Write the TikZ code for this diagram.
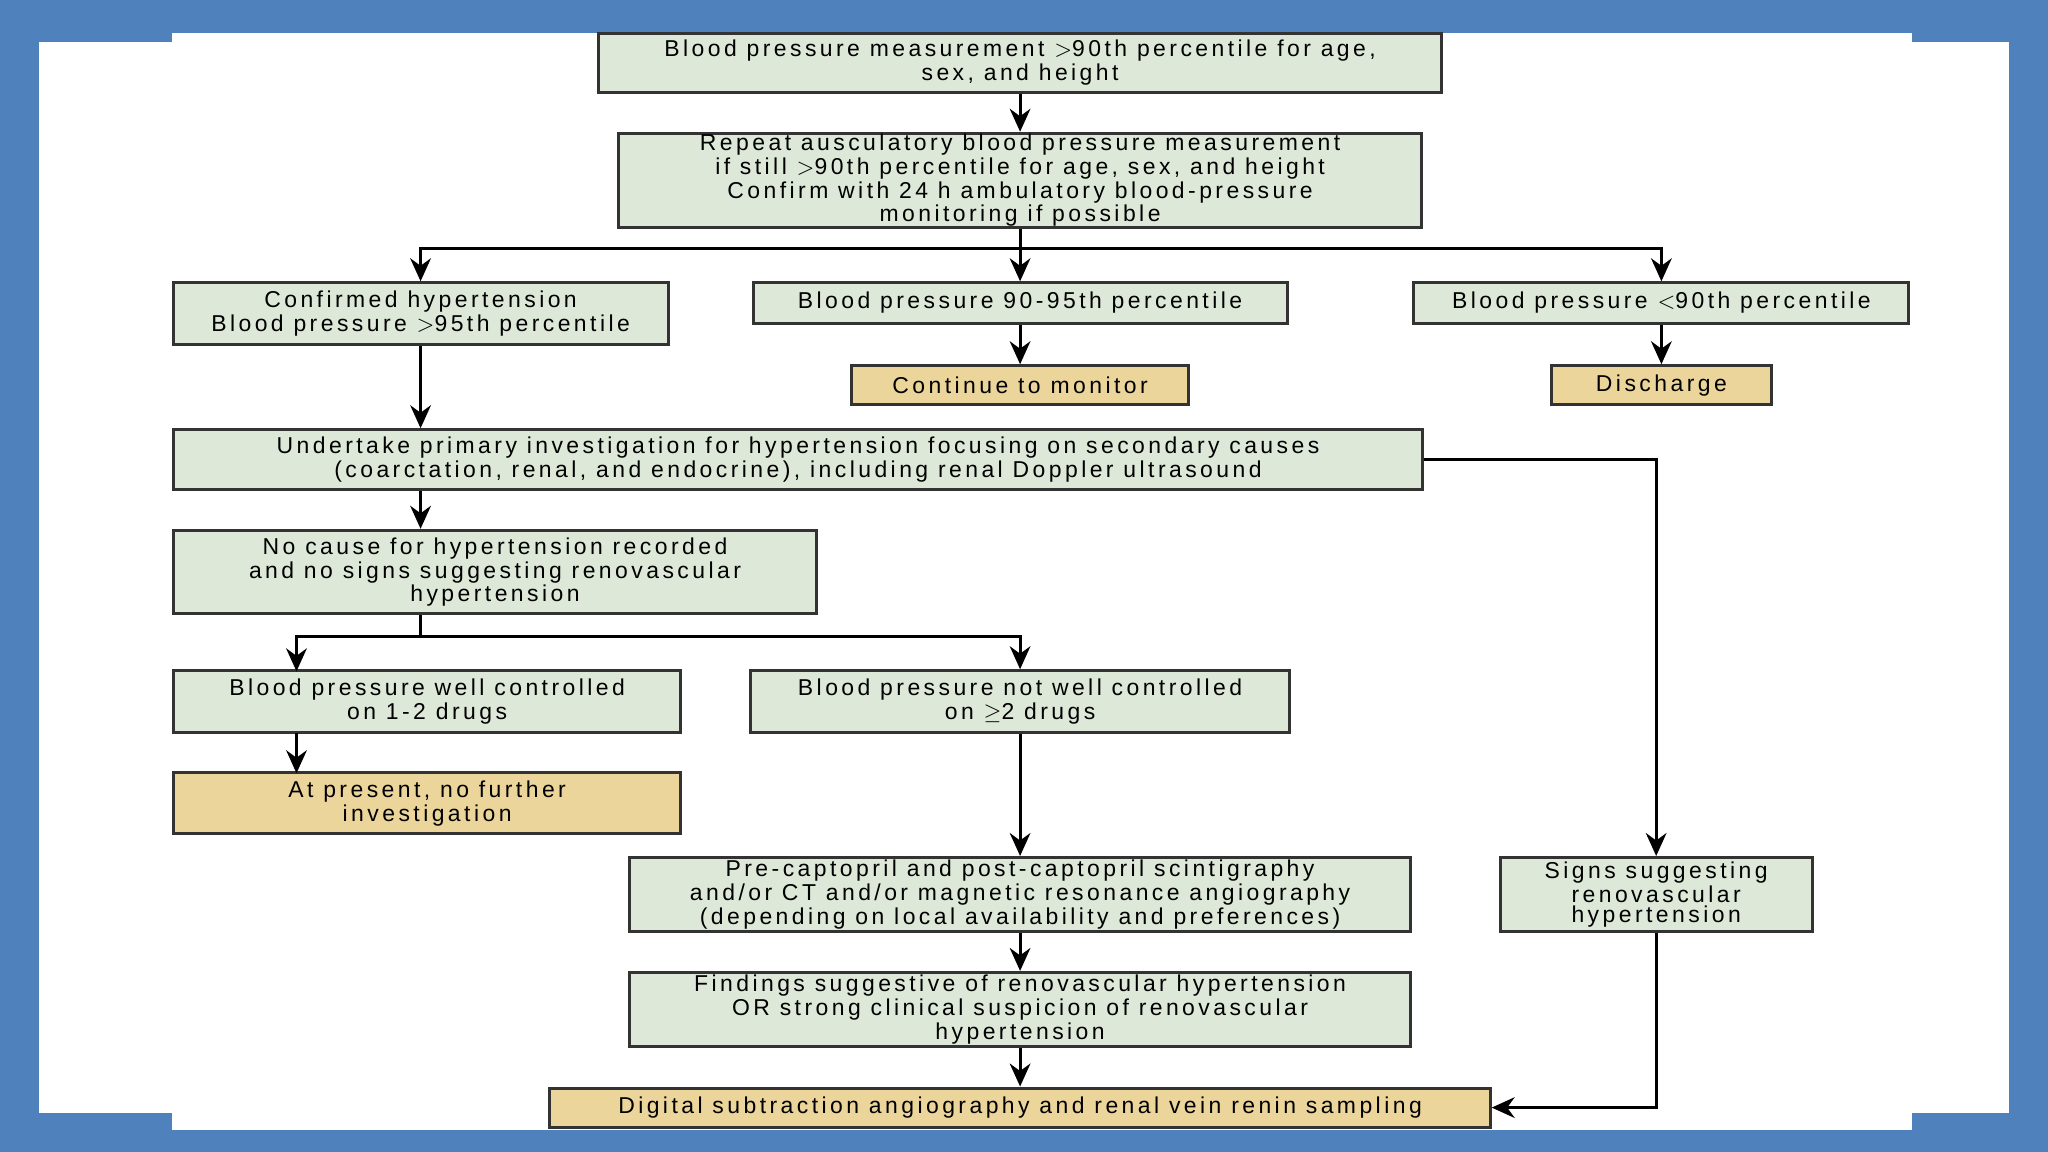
\documentclass[tikz,border=0pt]{standalone}
\usepackage{fontspec}
\setmainfont{Liberation Sans}[LetterSpace=15]
\usetikzlibrary{arrows.meta}
\definecolor{bgblue}{HTML}{4F81BD}
\definecolor{gbox}{HTML}{DDE8D8}
\definecolor{ybox}{HTML}{EBD59A}
\begin{document}
\begin{tikzpicture}[x=0.02cm,y=-0.02cm,
 box/.style={draw=black!80,line width=1.3pt,fill=gbox,align=center,inner sep=0pt,
   font=\fontsize{10}{8.8}\selectfont},
 ybx/.style={box,fill=ybox},
 ar/.style={line width=1.3pt,-{Stealth[length=10pt,width=9pt]}},
 ln/.style={line width=1.3pt}]
\fill[bgblue] (0,0) rectangle (1568,882);
\fill[white] (30,32) rectangle (1538,852);
\fill[white] (132,25) rectangle (1464,865);
\node[box,minimum width=12.9cm,minimum height=0.9cm] (b1) at (781,48) {Blood pressure measurement $>$90th percentile for age,\\sex, and height};
\node[box,minimum width=12.3cm,minimum height=1.44cm] (b2) at (781,138) {Repeat ausculatory blood pressure measurement\\if still $>$90th percentile for age, sex, and height\\Confirm with 24 h ambulatory blood-pressure\\monitoring if possible};
\node[box,minimum width=7.58cm,minimum height=0.94cm] (c1) at (322,240) {Confirmed hypertension\\Blood pressure $>$95th percentile};
\node[box,minimum width=8.18cm,minimum height=0.62cm] (c2) at (781,232) {Blood pressure 90-95th percentile};
\node[box,minimum width=7.58cm,minimum height=0.62cm] (c3) at (1272,232) {Blood pressure $<$90th percentile};
\node[ybx,minimum width=5.16cm,minimum height=0.6cm] (m) at (781,295) {Continue to monitor};
\node[ybx,minimum width=3.38cm,minimum height=0.6cm] (d) at (1272,295) {Discharge};
\node[box,minimum width=19.12cm,minimum height=0.92cm] (u) at (611,352) {Undertake primary investigation for hypertension focusing on secondary causes\\(coarctation, renal, and endocrine), including renal Doppler ultrasound};
\node[box,minimum width=9.84cm,minimum height=1.28cm] (n) at (379,438) {No cause for hypertension recorded\\and no signs suggesting renovascular\\hypertension};
\node[box,minimum width=7.76cm,minimum height=0.94cm] (w) at (327,537) {Blood pressure well controlled\\on 1-2 drugs};
\node[box,minimum width=8.26cm,minimum height=0.94cm] (nw) at (781,537) {Blood pressure not well controlled\\on $\geq$2 drugs};
\node[ybx,minimum width=7.76cm,minimum height=0.94cm] (a) at (327,615) {At present, no further\\investigation};
\node[box,minimum width=11.96cm,minimum height=1.14cm] (p) at (781,685) {Pre-captopril and post-captopril scintigraphy\\and/or CT and/or magnetic resonance angiography\\(depending on local availability and preferences)};
\node[box,minimum width=4.78cm,minimum height=1.14cm] (s) at (1268,685) {Signs suggesting\\renovascular\\hypertension};
\node[box,minimum width=11.96cm,minimum height=1.14cm] (f) at (781,773) {Findings suggestive of renovascular hypertension\\OR strong clinical suspicion of renovascular\\hypertension};
\node[ybx,minimum width=14.4cm,minimum height=0.6cm] (dsa) at (781,848) {Digital subtraction angiography and renal vein renin sampling};
\coordinate (j1) at (781,190);
\coordinate (j2) at (322,487);
\draw[ar] (b1) -- (b2);
\draw[ln] (b2.south) -- (j1);
\draw[ar] (j1) -- (c2);
\draw[ar] (j1) -| (c1.north);
\draw[ar] (j1) -| (c3.north);
\draw[ar] (c2) -- (m);
\draw[ar] (c3) -- (d);
\draw[ar] (c1.south) -- (c1.south|-u.north);
\draw[ar] (c1.south|-u.south) -- (c1.south|-n.north);
\draw[ln] (c1.south|-n.south) -- (j2);
\draw[ar] (j2) -| (227,514);
\draw[ar] (j2) -| (nw.north);
\draw[ar] (227,561) -- (227,592);
\draw[ar] (nw) -- (p);
\draw[ar] (p) -- (f);
\draw[ar] (f) -- (dsa);
\draw[ar] (u.east) -| (s.north);
\draw[ar] (s.south) |- (dsa.east);
\end{tikzpicture}
\end{document}
